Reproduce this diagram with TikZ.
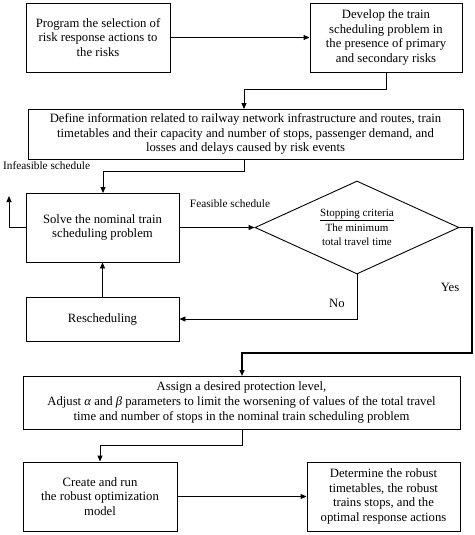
\documentclass[tikz,border=0pt]{standalone}
\usepackage{fontspec}
\setmainfont{Liberation Serif}
\usetikzlibrary{shapes.geometric,arrows.meta}
\begin{document}
\begin{tikzpicture}[x=1pt,y=-1pt,
  box/.style={draw,line width=0.9pt,inner sep=1pt,align=center,font=\fontsize{12.7}{14.7}\selectfont},
  lbl/.style={inner sep=0pt,font=\fontsize{11.3}{13}\selectfont},
  arr/.style={line width=0.9pt,-{Triangle[length=6pt,width=5pt]}},
  ln/.style={line width=0.9pt}]
\useasboundingbox (0,0) rectangle (474,535);
\node[box,minimum width=144pt,minimum height=69pt] (b1) at (98,37.5) {Program the selection of\\risk response actions to\\the risks};
\node[box,minimum width=152pt,minimum height=69pt] (b2) at (386,37.5) {Develop the train\\scheduling problem in\\the presence of primary\\and secondary risks};
\node[box,minimum width=435pt,minimum height=50pt] (b3) at (245.5,134) {Define information related to railway network infrastructure and routes, train\\timetables and their capacity and number of stops, passenger demand, and\\losses and delays caused by risk events};
\node[box,minimum width=153pt,minimum height=69pt] (b4) at (102.5,227.5) {Solve the nominal train\\scheduling problem};
\node[draw,diamond,line width=0.9pt,inner sep=0pt,minimum width=204pt,minimum height=93pt,aspect=2.2,align=center,font=\fontsize{11}{14.5}\selectfont] (d) at (357,227.5) {\underline{Stopping criteria}\\The minimum\\total travel time};
\node[box,minimum width=153pt,minimum height=44pt] (b5) at (102.5,319) {Rescheduling};
\node[box,minimum width=437pt,minimum height=53pt] (b6) at (241.5,402.5) {Assign a desired protection level,\\Adjust {\itshape α} and {\itshape β} parameters to limit the worsening of values of the total travel\\time and number of stops in the nominal train scheduling problem};
\node[box,minimum width=154pt,minimum height=69pt] (b7) at (100,496.5) {Create and run\\the robust optimization\\model};
\node[box,minimum width=153pt,minimum height=69pt] (b8) at (383.5,496.5) {Determine the robust\\timetables, the robust\\trains stops, and the\\optimal response actions};
\coordinate (inf) at (9,196);
\node[lbl,anchor=west] (tinf) at (3,166) {Infeasible schedule};
\node[lbl] (tfs) at (230,204) {Feasible schedule};
\node[lbl,font=\fontsize{12.7}{14}\selectfont] (tno) at (337,303) {No};
\node[lbl,font=\fontsize{12.7}{14}\selectfont] (tyes) at (450,287) {Yes};
\draw[arr] (b1.east) -- (b2.west);
\draw[arr] (b2.south) -- (386,89) -- (244,89) -- (244,109);
\draw[arr] (244,159) -- (244,171) -- (103,171) -- (103,193);
\draw[arr] (b4.west) -- (9,227.5) -- (inf);
\draw[arr] (b4.east) -- (d.west);
\draw[arr] (d.south) -- (357,319) -- (b5.east);
\draw[arr] (b5.north) -- (b4.south);
\draw[arr,line width=1.4pt] (d.east) -- (472,227.5) -- (472,353) -- (242,353) -- (242,376);
\draw[arr] (242,429) -- (242,445) -- (100,445) -- (b7.north);
\draw[arr] (b7.east) -- (b8.west);
\end{tikzpicture}
\end{document}
